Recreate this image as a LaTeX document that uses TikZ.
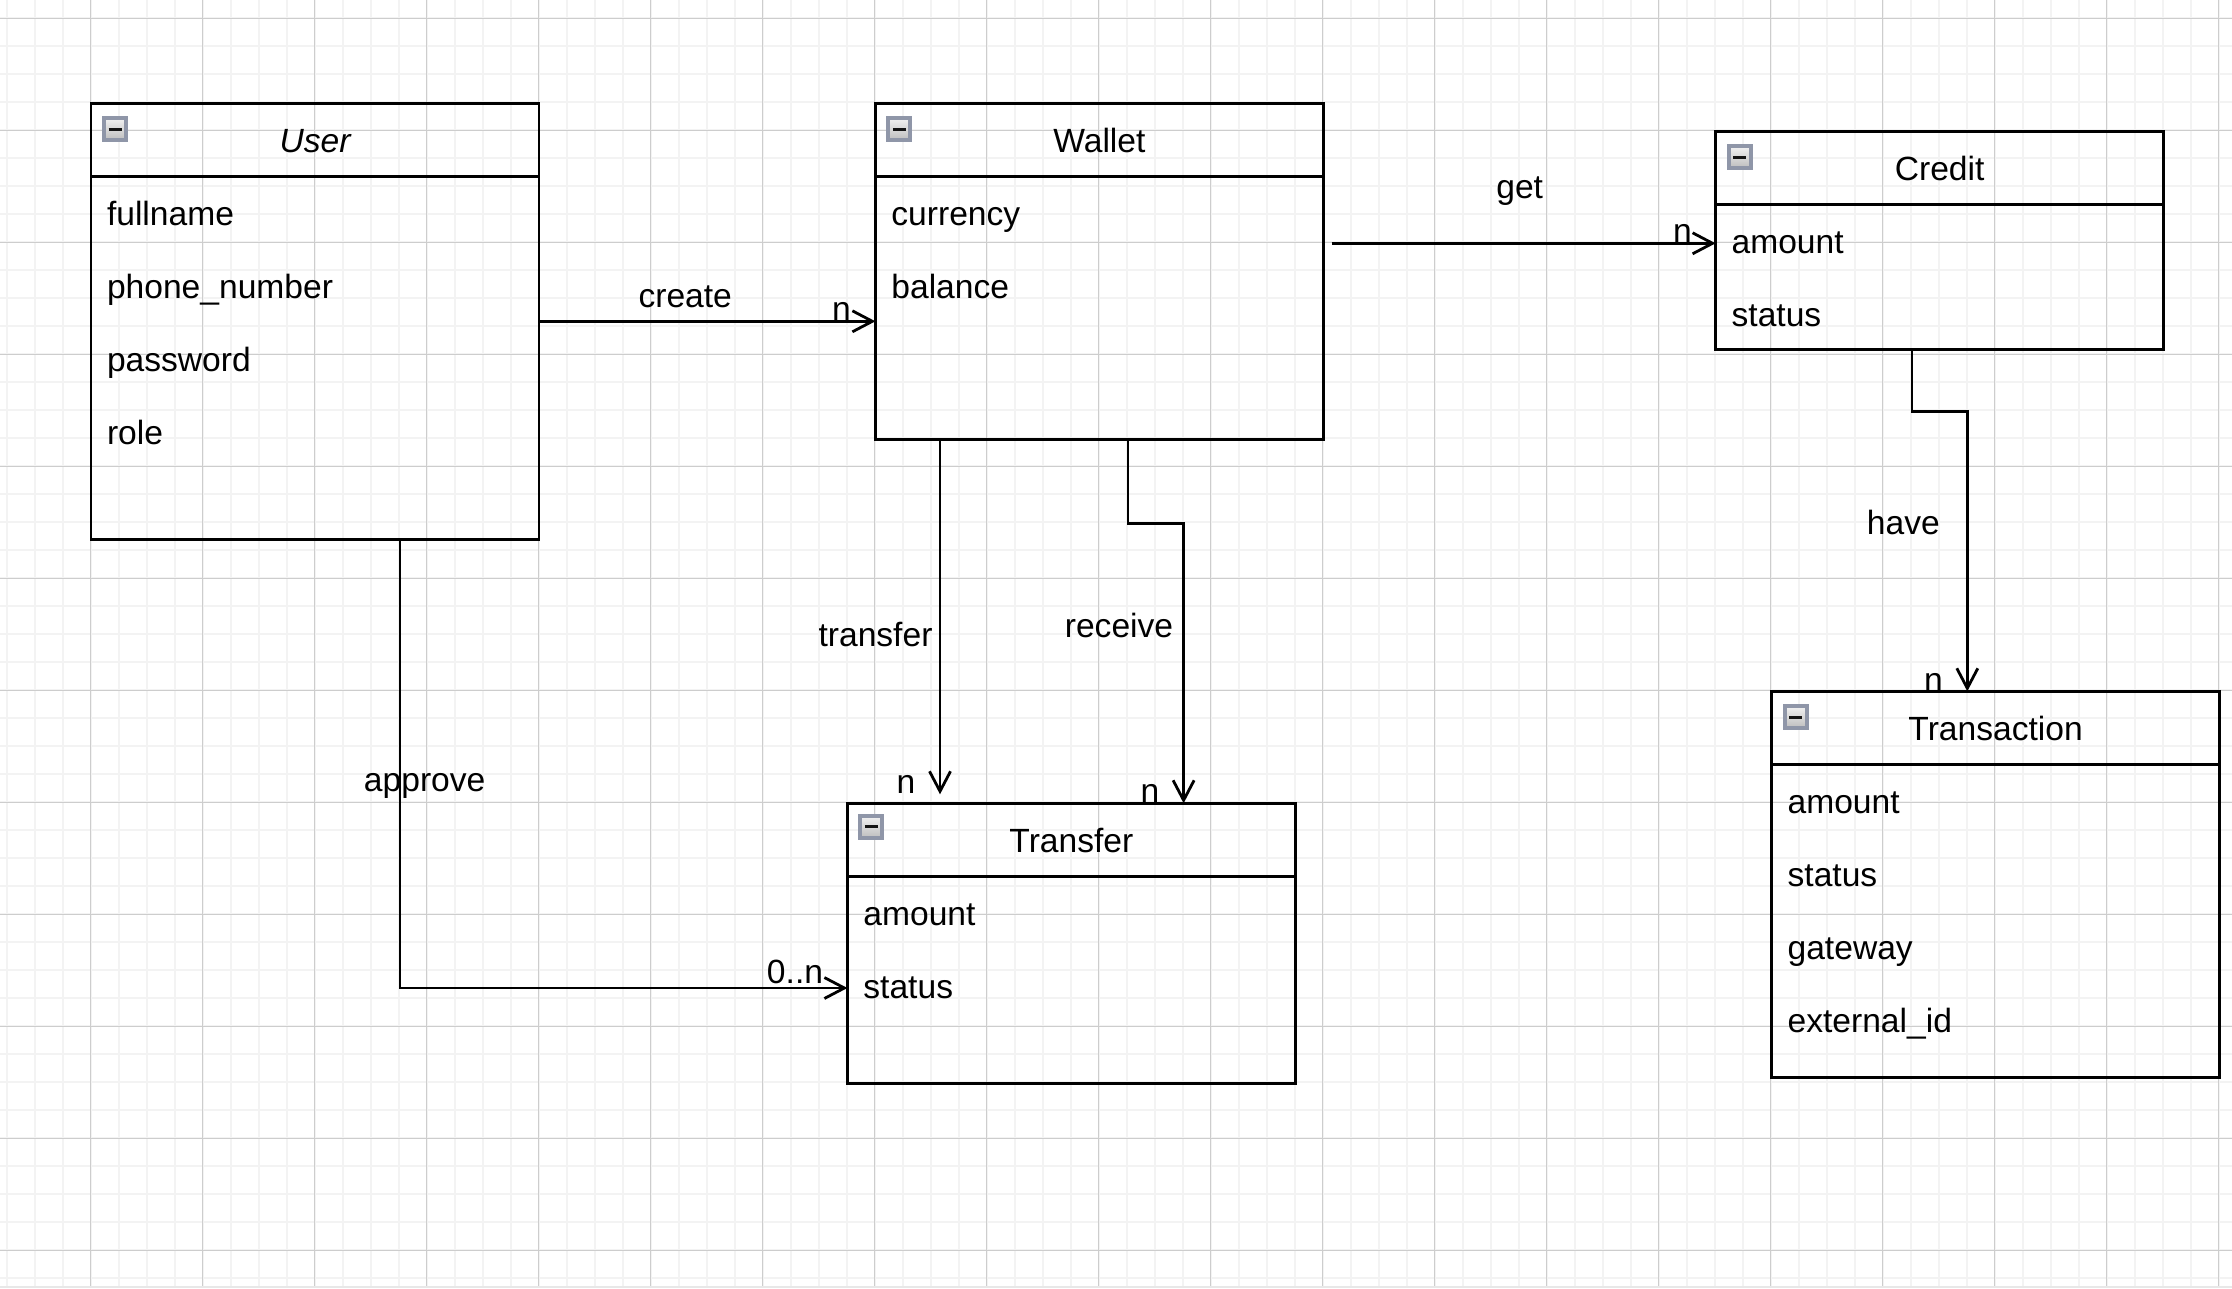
\documentclass[tikz,border=0pt]{standalone}
\usepackage{fontspec}
\setmainfont{Liberation Sans}
\usetikzlibrary{arrows.meta,calc}
\definecolor{gridminor}{HTML}{F3F3F3}
\definecolor{gridmajor}{HTML}{CDCDCD}
\definecolor{pageedge}{HTML}{E8E8E8}
\definecolor{iconedge}{HTML}{8F96A8}
\definecolor{icontop}{HTML}{F2F2F2}
\definecolor{iconbottom}{HTML}{BEBEBE}
\definecolor{iconmark}{HTML}{141414}
\tikzset{
  classbox/.style={draw=black,line width=2.8pt,minimum width=448pt,anchor=north west,inner sep=0pt,outer sep=0pt},
  txt/.style={inner sep=0pt,outer sep=0pt,text=black,font=\fontsize{33.6}{40}\selectfont},
  fieldtxt/.style={txt,anchor=base west},
  titletxt/.style={txt,anchor=base},
  lbl/.style={txt,anchor=base},
  conn/.style={draw=black,line width=2.8pt,-{Straight Barb[length=20pt,width=21pt,line width=2.8pt]}},
  headline/.style={draw=black,line width=2.8pt},
  iconbox/.style={draw=iconedge,line width=4pt,top color=icontop,bottom color=iconbottom},
  iconbar/.style={draw=iconmark,line width=3pt}
}
% name, x, y, height, title font, title, fields, icon centre below the top
\newcommand{\umlclass}[8]{%
  \node[classbox,minimum height=#4 pt] (#1) at (#2,#3) {};
  \draw[headline] ($(#1.north west)+(0,72.8)$) -- ($(#1.north east)+(0,72.8)$);
  \path[iconbox] ($(#1.north west)+(13,#8-11)$) rectangle ($(#1.north west)+(35,#8+11)$);
  \draw[iconbar] ($(#1.north west)+(17.5,#8)$) -- ($(#1.north west)+(30.5,#8)$);
  \node[titletxt] (#1-title) at ($(#1.north)+(0,49.4)$) {#5#6};
  \foreach \f [count=\i] in {#7} {
    \node[fieldtxt] (#1-f\i) at ($(#1.north west)+(16,122.4+72.8*\i-72.8)$) {\f};
  }%
}
\begin{document}
\begin{tikzpicture}[x=1pt,y=-1pt]
\useasboundingbox (0,0) rectangle (2232,1288);
\fill[white] (0,0) rectangle (2232,1288);
% grid
\foreach \k in {0,...,79} \draw[gridminor,line width=2pt] ({6.5+28*\k},0) -- ({6.5+28*\k},1286);
\foreach \k in {0,...,45} \draw[gridminor,line width=2pt] (0,{18.3+28*\k}) -- (2232,{18.3+28*\k});
\foreach \k in {0,...,19} \draw[gridmajor,line width=1.3pt] ({90.5+112*\k},0) -- ({90.5+112*\k},1286);
\foreach \k in {0,...,11} \draw[gridmajor,line width=1.3pt] (0,{18.3+112*\k}) -- (2232,{18.3+112*\k});
\fill[pageedge] (0,1286) rectangle (2232,1288);
% classes
\umlclass{user}{91}{103.3}{436}{\itshape}{User}{fullname,phone\_number,password,role}{25.7}
\umlclass{wallet}{875.4}{103.3}{336}{}{Wallet}{currency,balance}{25.7}
\umlclass{credit}{1715.6}{131.3}{218.4}{}{Credit}{amount,status}{25.7}
\umlclass{transaction}{1771.6}{691.3}{386}{}{Transaction}{amount,status,gateway,external\_id}{25.7}
\umlclass{transfer}{847.4}{803.3}{280}{}{Transfer}{amount,status}{23.5}
% free connector ends and bend points
\coordinate (getstart) at (1331.7,243.3);
\coordinate (transferend) at ($(transfer.north west)+(92.6,-9)$);
\coordinate (wallettransfer) at ($(wallet.south west)+(64.6,0)$);
\coordinate (walletreceive) at ($(wallet.south west)+(252.6,0)$);
\coordinate (receivebend) at (1183.6,523.6);
\coordinate (creditout) at ($(credit.south west)+(196.4,0)$);
\coordinate (havebend) at (1967.3,411.4);
\coordinate (userout) at ($(user.south west)+(309,0)$);
\coordinate (approvebend) at (400,988);
% connectors
\draw[conn] (user.east) -- (user.east -| wallet.west);
\draw[conn] (getstart) -- (getstart -| credit.west);
\draw[conn] (wallettransfer) -- (wallettransfer |- transferend);
\draw[conn] (walletreceive) |- (receivebend) -- (receivebend |- transfer.north);
\draw[conn] (creditout) |- (havebend) -- (havebend |- transaction.north);
\draw[conn] (userout) |- (approvebend) -- (approvebend -| transfer.west);
% labels
\node[lbl] (lcreate) at (685.2,307.5) {create};
\node[lbl] (lcreaten) at (841.5,320.3) {n};
\node[lbl] (lget) at (1519.7,198.7) {get};
\node[lbl] (lgetn) at (1682.5,242.7) {n};
\node[lbl] (lhave) at (1903.4,534.5) {have};
\node[lbl] (lhaven) at (1933.5,691) {n};
\node[lbl] (ltransfer) at (875.5,646) {transfer};
\node[lbl] (lreceive) at (1119,637.7) {receive};
\node[lbl] (ltransfern) at (906,793.2) {n};
\node[lbl] (lreceiven) at (1150,802.2) {n};
\node[lbl] (lapprove) at (424.7,791.5) {approve};
\node[lbl] (lapproven) at (795,983.8) {0..n};
\end{tikzpicture}
\end{document}
